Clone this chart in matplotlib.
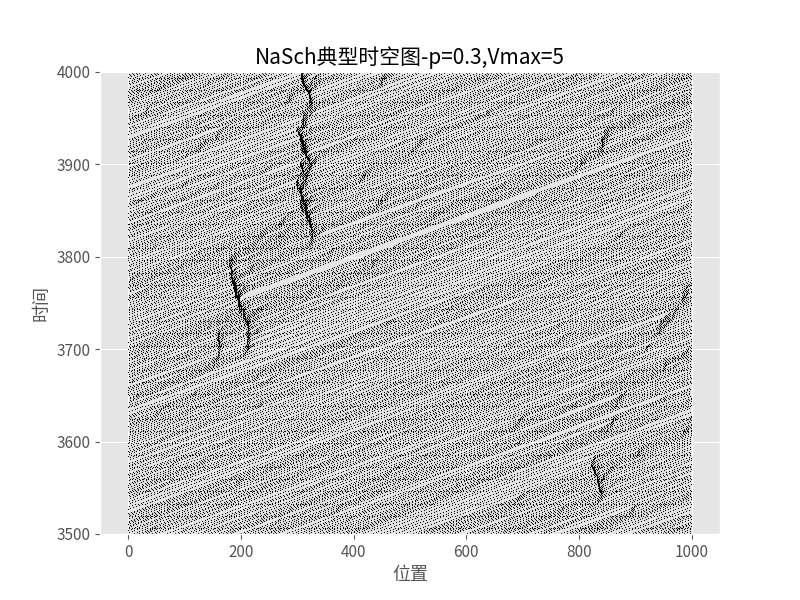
import numpy as np
import matplotlib
matplotlib.use("Agg")
from matplotlib import pyplot as plt

# NaSch model parameters
road_len = 1000
n_cars = 104
vmax = 5
p_slow = 0.3
t_total = 4001
t_show = 3500
seed = 7

rng = np.random.default_rng(seed)
pos = np.sort(rng.choice(road_len, n_cars, replace=False))
vel = np.zeros(n_cars, dtype=int)

xs = []
ts = []
for t in range(t_total):
    if t >= t_show:
        xs.append(pos.copy())
        ts.append(np.full(n_cars, t))
    gap = (np.roll(pos, -1) - pos - 1) % road_len
    vel = np.minimum(vel + 1, vmax)
    vel = np.minimum(vel, gap)
    slow = rng.random(n_cars) < p_slow
    vel = np.where(slow, np.maximum(vel - 1, 0), vel)
    pos = (pos + vel) % road_len
    order = np.argsort(pos)
    pos, vel = pos[order], vel[order]

xs = np.concatenate(xs)
ts = np.concatenate(ts)

plt.style.use("ggplot")
plt.rcParams['font.family'] = ['Noto Sans CJK SC', 'DejaVu Sans']
plt.rcParams['axes.unicode_minus'] = False

fig, ax = plt.subplots(figsize=(8, 6), dpi=100)
ax.scatter(xs, ts, s=3, c='k', marker='.', linewidths=0)
ax.set_ylim(3500, 4000)
ax.set_xlim(-50, 1050)
ax.set_xlabel("位置", fontsize=13)
ax.set_ylabel("时间", fontsize=13)
ax.set_title("NaSch典型时空图-p=0.3,Vmax=5", fontsize=15)
ax.tick_params(labelsize=11)
plt.savefig("out.png")
